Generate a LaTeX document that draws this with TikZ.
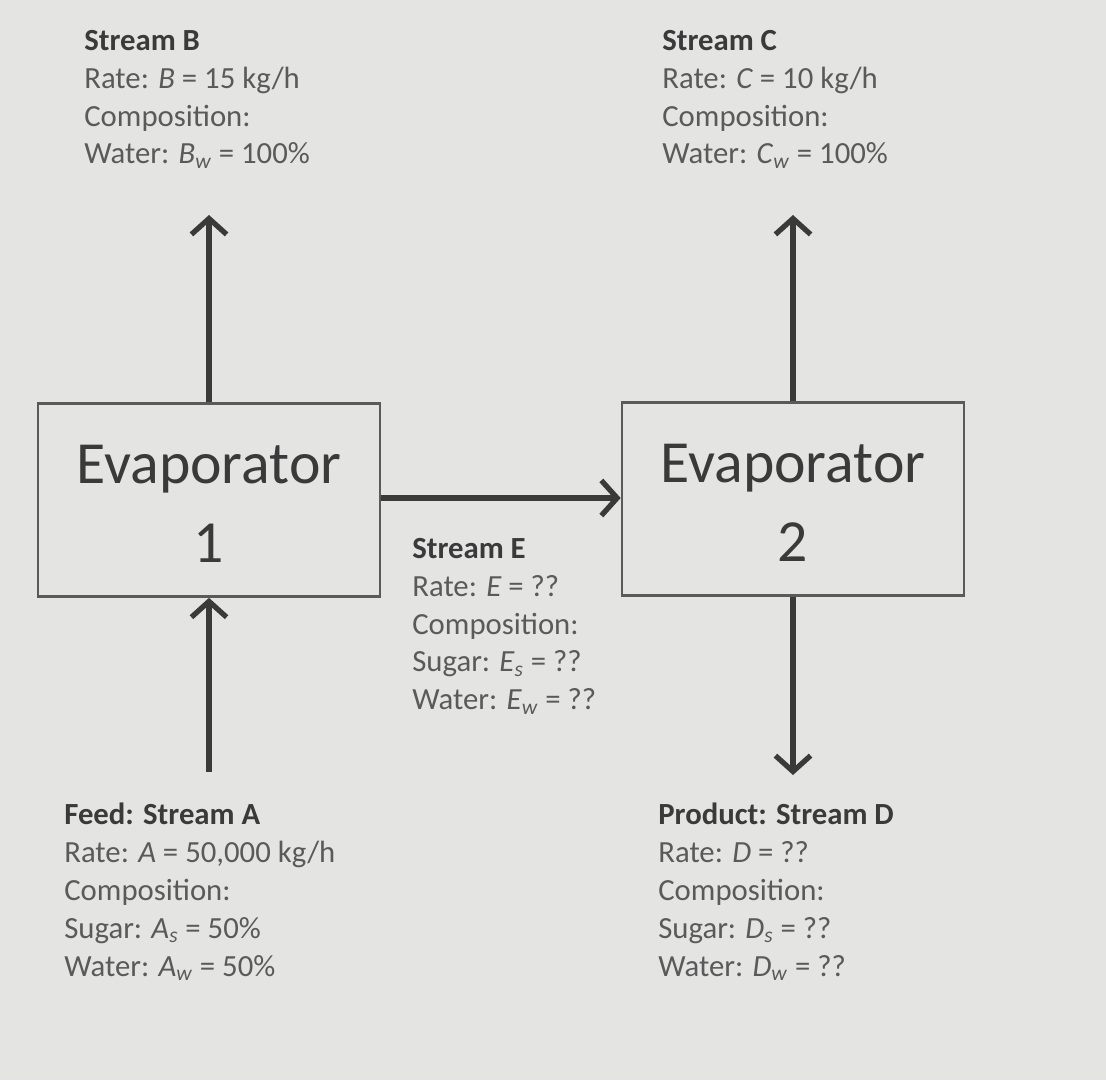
\documentclass[tikz,border=0pt]{standalone}
\usepackage{fontspec}
\setmainfont{Carlito}
\usetikzlibrary{arrows.meta}
\definecolor{bg}{HTML}{E4E4E2}
\definecolor{txt}{HTML}{5A5A5A}
\definecolor{hdr}{HTML}{3A3A3A}
\tikzset{
  box/.style={draw=txt,line width=1.5pt,fill=bg,minimum width=342*0.02cm,minimum height=193*0.02cm,inner sep=0pt},
  boxtxt/.style={font=\fontsize{34}{45}\selectfont,text=hdr,align=center},
  lbl/.style={anchor=north west,align=left,text=txt,font=\fontsize{17.5}{21.5}\selectfont,inner sep=0pt},
  flow/.style={draw=hdr,line width=3pt,-{Straight Barb[length=9pt,width=20pt,line width=3pt]}}
}
\newcommand{\hd}[1]{{\bfseries\color{hdr}#1}}
\newcommand{\vr}[2]{\textit{#1}\textsubscript{\textit{#2}}}
\begin{document}
\begin{tikzpicture}[x=0.02cm,y=-0.02cm]
\fill[bg] (0,0) rectangle (1106,1080);
\useasboundingbox (0,0) rectangle (1106,1080);
\node[box] (e1) at (209,500) {};
\node[boxtxt] at (209,504) {Evaporator\\1};
\node[box] (e2) at (793,499) {};
\node[boxtxt] at (793,503) {Evaporator\\2};
\coordinate (bt) at (209,215);
\coordinate (ct) at (793,215);
\coordinate (ab) at (209,772);
\coordinate (db) at (793,775);
\draw[flow] (e1.north) -- (bt);
\draw[flow] (e2.north) -- (ct);
\draw[flow] (ab) -- (e1.south);
\draw[flow] (e2.south) -- (db);
\draw[flow] (e1.east |- 0,498) -- (e2.west |- 0,498);
\node[lbl] (sb) at (84,30) {\hd{Stream B}\\Rate: \textit{B} = 15 kg/h\\Composition:\\Water: \vr{B}{w} = 100\%};
\node[lbl] (sc) at (662,30) {\hd{Stream C}\\Rate: \textit{C} = 10 kg/h\\Composition:\\Water: \vr{C}{w} = 100\%};
\node[lbl] (se) at (412,538) {\hd{Stream E}\\Rate: \textit{E} = ??\\Composition:\\Sugar: \vr{E}{s} = ??\\Water: \vr{E}{w} = ??};
\node[lbl] (sa) at (64,803) {\hd{Feed: Stream A}\\Rate: \textit{A} = 50,000 kg/h\\Composition:\\Sugar: \vr{A}{s} = 50\%\\Water: \vr{A}{w} = 50\%};
\node[lbl] (sd) at (658,803) {\hd{Product: Stream D}\\Rate: \textit{D} = ??\\Composition:\\Sugar: \vr{D}{s} = ??\\Water: \vr{D}{w} = ??};
\end{tikzpicture}
\end{document}
